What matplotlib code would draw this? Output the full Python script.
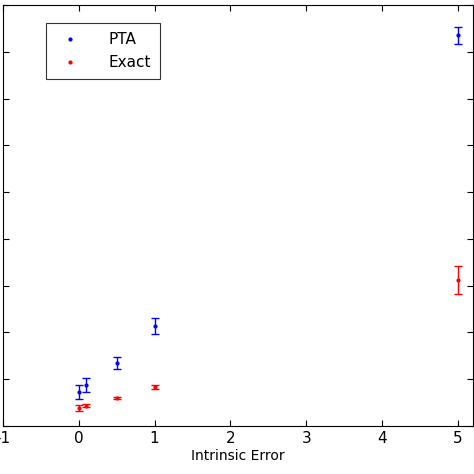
import matplotlib
matplotlib.use('Agg')
import matplotlib.pyplot as plt

## Data (y units arbitrary, tick labels cropped off)
x_vals = [0, 0.1, 0.5, 1, 5]
pta_y = [0.73, 0.88, 1.35, 2.14, 8.35]
pta_err = [0.15, 0.15, 0.13, 0.17, 0.18]
exact_y = [0.38, 0.43, 0.60, 0.83, 3.12]
exact_err = [0.06, 0.03, 0.02, 0.04, 0.30]
x_ticks = [-1, 0, 1, 2, 3, 4, 5]

fig = plt.figure(figsize=(4.74, 4.74), dpi=100)
ax = fig.add_axes([3/474, 48/474, 470/474, 421/474])

## Error bars (no legend entry), then dots with labels
ax.errorbar(x_vals, pta_y, yerr=pta_err, fmt='none', ecolor='#0000ff',
            capsize=3, elinewidth=1)
ax.errorbar(x_vals, exact_y, yerr=exact_err, fmt='none', ecolor='#ff0000',
            capsize=3, elinewidth=1)
ax.plot(x_vals, pta_y, '.', color='#0000ff', ms=4, label='PTA')
ax.plot(x_vals, exact_y, '.', color='#ff0000', ms=4, label='Exact')

ax.set_xlim(-1, 5.2)
ax.set_ylim(0, 9)
ax.set_xticks(x_ticks)
ax.set_xticklabels([str(t) for t in x_ticks], fontsize=11)
ax.set_yticks(range(10))
ax.set_yticklabels([])
ax.tick_params(direction='in', top=True, right=True, length=4)
ax.set_xlabel('Intrinsic Error', fontsize=10, labelpad=2)

leg = ax.legend(loc='upper left', bbox_to_anchor=(0.075, 0.975), fontsize=11,
                fancybox=False, edgecolor='black', handletextpad=1.5,
                borderpad=0.6)
leg.get_frame().set_linewidth(0.8)

fig.savefig('out.png', dpi=100)
